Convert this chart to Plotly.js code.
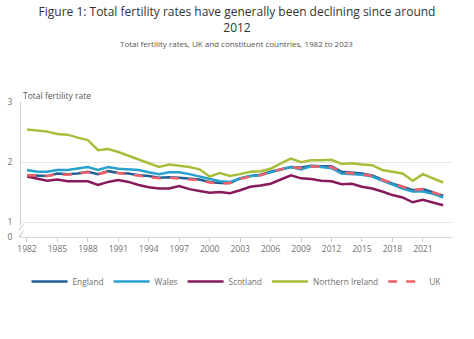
<!DOCTYPE html>
<html>
<head>
<meta charset="utf-8">
<script src="https://cdn.plot.ly/plotly-3.0.1.min.js"></script>
<style>html,body{margin:0;padding:0;background:#fff;}#chart{width:474px;height:339px;}</style>
</head>
<body>
<div id="chart"></div>
<script>
const years = [];
for (let y = 1982; y <= 2023; y++) years.push(y);

const england = [1.78,1.77,1.77,1.81,1.80,1.81,1.84,1.80,1.85,1.82,
                 1.81,1.78,1.77,1.74,1.75,1.74,1.73,1.71,1.67,1.65,
                 1.65,1.73,1.77,1.79,1.84,1.88,1.92,1.91,1.94,1.93,
                 1.93,1.84,1.83,1.81,1.78,1.71,1.64,1.59,1.53,1.55,
                 1.49,1.44];
const wales = [1.87,1.84,1.84,1.87,1.87,1.89,1.92,1.87,1.92,1.89,
               1.88,1.87,1.83,1.80,1.83,1.83,1.80,1.76,1.71,1.68,
               1.67,1.73,1.77,1.78,1.83,1.88,1.92,1.88,1.93,1.92,
               1.90,1.81,1.80,1.79,1.76,1.69,1.63,1.56,1.51,1.51,
               1.47,1.41];
const scotland = [1.76,1.72,1.69,1.71,1.68,1.68,1.68,1.62,1.67,1.70,
                  1.67,1.62,1.58,1.56,1.56,1.60,1.55,1.52,1.49,1.50,
                  1.48,1.53,1.59,1.61,1.64,1.71,1.78,1.73,1.72,1.69,
                  1.68,1.63,1.64,1.59,1.56,1.51,1.45,1.41,1.33,1.37,
                  1.33,1.28];
const nireland = [2.545,2.53,2.51,2.47,2.46,2.41,2.37,2.20,2.22,2.17,
                  2.11,2.04,1.98,1.92,1.96,1.94,1.92,1.88,1.76,1.82,
                  1.77,1.80,1.84,1.85,1.89,1.98,2.06,2.00,2.03,2.03,
                  2.04,1.97,1.98,1.96,1.95,1.87,1.84,1.81,1.69,1.80,
                  1.73,1.66];
const uk = [1.78,1.77,1.77,1.80,1.79,1.81,1.83,1.80,1.84,1.82,
            1.80,1.77,1.76,1.73,1.74,1.73,1.72,1.70,1.66,1.64,
            1.65,1.72,1.76,1.78,1.84,1.88,1.92,1.90,1.93,1.92,
            1.92,1.83,1.82,1.80,1.77,1.71,1.64,1.59,1.53,1.55,
            1.49,1.44];

const xTicks = [1982,1985,1988,1991,1994,1997,2000,2003,2006,2009,2012,2015,2018,2021];
const yTickVals = [0.75,1,2,3];
const yTickText = ['0','1','2','3'];

const seriesNames = ['England','Wales','Scotland','Northern Ireland','UK'];
const seriesData = [england, wales, scotland, nireland, uk];
const colors = ['#206095','#27a0cc','#871a5b','#a8bd3a','#f66068'];
const dashes = ['solid','solid','solid','solid','dash'];

const traces = seriesNames.map((n,i)=>({
  x: years, y: seriesData[i], name: n, type:'scatter', mode:'lines',
  line:{color:colors[i], width:2.5, dash:dashes[i]}
}));

const layout = {
  width:474, height:339,
  margin:{l:21, r:22, t:102, b:102},
  paper_bgcolor:'#fff', plot_bgcolor:'#fff',
  font:{family:'"Open Sans", sans-serif', color:'#707070', size:9},
  title:{text:'Figure 1: Total fertility rates have generally been declining since around<br>2012',
         font:{size:12, color:'#333333'}, x:0.5, xanchor:'center', y:0.952, yanchor:'top', yref:'container'},
  showlegend:true,
  legend:{orientation:'h', x:0.5, xanchor:'center', y:-0.33, yanchor:'middle',
          font:{size:8.3, color:'#707070'}, itemwidth:36, traceorder:'normal'},
  xaxis:{range:[1981.41, 2023.87], tickvals:xTicks, ticks:'outside', ticklen:4, tickcolor:'#cccccc',
         showgrid:false, showline:true, linecolor:'#d9d9d9', linewidth:1, zeroline:false,
         tickfont:{size:8.5, color:'#707070'}, fixedrange:true},
  yaxis:{range:[0.75, 3.005], tickvals:yTickVals, ticktext:yTickText, showgrid:true, gridcolor:'#e6e6e6',
         showline:true, linecolor:'#cccccc', linewidth:1, zeroline:false, ticks:'', ticklabelstandoff:6,
         tickfont:{size:8.5, color:'#707070'}, fixedrange:true},
  annotations:[
    {text:'Total fertility rates, UK and constituent countries, 1982 to 2023', xref:'paper', yref:'paper',
     x:0.5, y:1.43, xanchor:'center', yanchor:'middle', showarrow:false, font:{size:8, color:'#555555'}},
    {text:'Total fertility rate', xref:'paper', yref:'paper', x:0, y:1.047, xanchor:'left', yanchor:'middle',
     showarrow:false, font:{size:8.5, color:'#555555'}}
  ],
  shapes:[
    {type:'rect', xref:'paper', yref:'y', x0:-0.01, x1:0.01, y0:0.77, y1:0.95, fillcolor:'#ffffff', line:{width:0}, layer:'above'},
    {type:'line', xref:'paper', yref:'y', x0:-0.005, x1:0.006, y0:0.86, y1:0.96, line:{color:'#bbbbbb', width:1}},
    {type:'line', xref:'paper', yref:'y', x0:-0.005, x1:0.006, y0:0.75, y1:0.85, line:{color:'#bbbbbb', width:1}}
  ]
};

Plotly.newPlot('chart', traces, layout, {displayModeBar:false, staticPlot:true});
</script>
</body>
</html>
